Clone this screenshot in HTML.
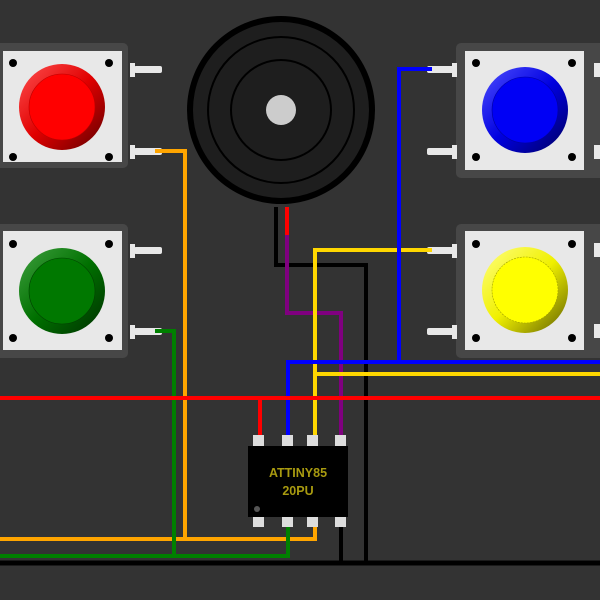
<!DOCTYPE html>
<html><head><style>body{margin:0;background:#333}svg{display:block}</style></head><body>
<svg width="600" height="600" viewBox="0 0 600 600" xmlns="http://www.w3.org/2000/svg">
<defs>
<linearGradient id="rg" x1="0" y1="0" x2="1" y2="1"><stop offset="0" stop-color="#ff5050"/><stop offset="0.5" stop-color="#e00000"/><stop offset="1" stop-color="#600000"/></linearGradient>
<linearGradient id="bg" x1="0" y1="0" x2="1" y2="1"><stop offset="0" stop-color="#5050ff"/><stop offset="0.5" stop-color="#0000e0"/><stop offset="1" stop-color="#000060"/></linearGradient>
<linearGradient id="gg" x1="0" y1="0" x2="1" y2="1"><stop offset="0" stop-color="#40a040"/><stop offset="0.5" stop-color="#007000"/><stop offset="1" stop-color="#003000"/></linearGradient>
<linearGradient id="yg" x1="0" y1="0" x2="1" y2="1"><stop offset="0" stop-color="#ffff80"/><stop offset="0.5" stop-color="#f0f000"/><stop offset="1" stop-color="#606000"/></linearGradient>
<g id="pinR"><rect x="130" y="-6" width="5" height="14" fill="#e8e8e8"/><rect x="134" y="-3" width="28" height="7" rx="2" fill="#e8e8e8"/></g>
<g id="pinL"><rect x="452" y="-6" width="5" height="14" fill="#e8e8e8"/><rect x="427" y="-3" width="28" height="7" rx="2" fill="#e8e8e8"/></g>
</defs>
<rect width="600" height="600" fill="#333"/>
<!-- buttons -->
<g>
<rect x="-6" y="43" width="134" height="125" rx="5" fill="#474747"/><rect x="3" y="51" width="119" height="111" fill="#e8e8e8"/>
<circle cx="13" cy="63" r="4"/><circle cx="109" cy="63" r="4"/><circle cx="13" cy="157" r="4"/><circle cx="109" cy="157" r="4"/>
<circle cx="62" cy="107" r="43" fill="url(#rg)"/><circle cx="62" cy="107" r="33" fill="#f00" stroke="#b00" stroke-width="0.6"/>
<use href="#pinR" y="69"/><use href="#pinR" y="151"/>
</g>
<g>
<rect x="-6" y="224" width="134" height="134" rx="5" fill="#474747"/><rect x="3" y="231" width="119" height="119" fill="#e8e8e8"/>
<circle cx="13" cy="244" r="4"/><circle cx="109" cy="244" r="4"/><circle cx="13" cy="338" r="4"/><circle cx="109" cy="338" r="4"/>
<circle cx="62" cy="291" r="43" fill="url(#gg)"/><circle cx="62" cy="291" r="33" fill="#007800" stroke="#004000" stroke-width="0.6"/>
<use href="#pinR" y="250"/><use href="#pinR" y="331"/>
</g>
<g>
<rect x="456" y="43" width="150" height="135" rx="5" fill="#474747"/><rect x="465" y="51" width="119" height="119" fill="#e8e8e8"/>
<circle cx="476" cy="63" r="4"/><circle cx="572" cy="63" r="4"/><circle cx="476" cy="157" r="4"/><circle cx="572" cy="157" r="4"/>
<circle cx="525" cy="110" r="43" fill="url(#bg)"/><circle cx="525" cy="110" r="33" fill="#0000f5" stroke="#0000a0" stroke-width="0.6"/>
<use href="#pinL" y="69"/><use href="#pinL" y="151"/>
<rect x="594" y="63" width="6" height="14" fill="#e8e8e8"/><rect x="594" y="145" width="6" height="14" fill="#e8e8e8"/>
</g>
<g>
<rect x="456" y="224" width="150" height="134" rx="5" fill="#474747"/><rect x="465" y="231" width="119" height="119" fill="#e8e8e8"/>
<circle cx="476" cy="244" r="4"/><circle cx="572" cy="244" r="4"/><circle cx="476" cy="338" r="4"/><circle cx="572" cy="338" r="4"/>
<circle cx="525" cy="290" r="43" fill="url(#yg)"/><circle cx="525" cy="290" r="33" fill="#ff0" stroke="#a0a000" stroke-width="0.6" stroke-dasharray="2,1"/>
<use href="#pinL" y="250"/><use href="#pinL" y="331"/>
<rect x="594" y="243" width="6" height="14" fill="#e8e8e8"/><rect x="594" y="324" width="6" height="14" fill="#e8e8e8"/>
</g>
<!-- buzzer -->
<circle cx="281" cy="110" r="94" fill="#000"/>
<circle cx="281" cy="110" r="88" fill="#1e1e1e"/>
<circle cx="281" cy="110" r="73" fill="none" stroke="#000" stroke-width="2"/>
<circle cx="281" cy="110" r="50" fill="none" stroke="#000" stroke-width="2"/>
<circle cx="281" cy="110" r="15" fill="#ccc"/>
<!-- wires -->
<g fill="none" stroke-width="4" stroke-linejoin="miter">
<polyline points="0,563 600,563" stroke="#000" stroke-width="5"/>
<polyline points="276,207 276,265 366,265 366,563" stroke="#000"/>
<polyline points="341,525 341,563" stroke="#000"/>
<polyline points="155,151 185,151 185,539 0,539" stroke="#ffa500"/>
<polyline points="185,539 315,539 315,525" stroke="#ffa500"/>
<polyline points="155,331 174,331 174,556 0,556" stroke="#008000"/>
<polyline points="174,556 288,556 288,525" stroke="#008000"/>
<polyline points="287,207 287,235" stroke="#f00"/>
<polyline points="287,235 287,313 341,313 341,438" stroke="#800080"/>
<polyline points="432,250 315,250 315,438" stroke="#ffd700"/>
<polyline points="315,374 600,374" stroke="#ffd700"/>
<polyline points="432,69 399,69 399,362" stroke="#00f"/>
<polyline points="600,362 288,362 288,438" stroke="#00f"/>
<polyline points="0,398 600,398" stroke="#f00"/>
<polyline points="260,398 260,438" stroke="#f00"/>
</g>
<!-- chip -->
<g fill="#ddd">
<rect x="253" y="435" width="11" height="11"/><rect x="282" y="435" width="11" height="11"/><rect x="307" y="435" width="11" height="11"/><rect x="335" y="435" width="11" height="11"/>
<rect x="253" y="517" width="11" height="10"/><rect x="282" y="517" width="11" height="10"/><rect x="307" y="517" width="11" height="10"/><rect x="335" y="517" width="11" height="10"/>
</g>
<rect x="248" y="446" width="100" height="71" fill="#000"/>
<circle cx="257" cy="509" r="3" fill="#555"/>
<text x="298" y="477" fill="#a89a10" font-family="Liberation Sans, sans-serif" font-size="12.5" font-weight="bold" text-anchor="middle">ATTINY85</text>
<text x="298" y="495" fill="#a89a10" font-family="Liberation Sans, sans-serif" font-size="12.5" font-weight="bold" text-anchor="middle">20PU</text>
</svg>
</body></html>
